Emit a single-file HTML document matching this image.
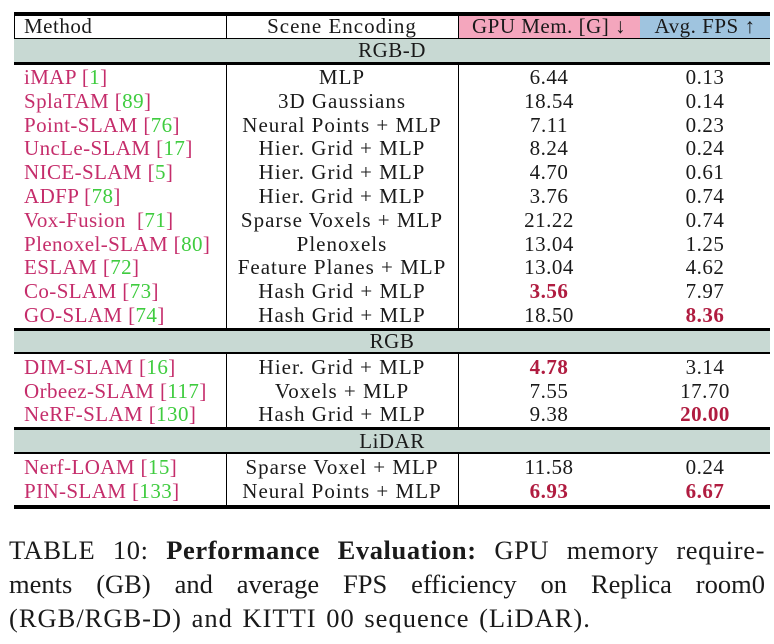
<!DOCTYPE html>
<html><head><meta charset="utf-8"><style>
body{margin:0;width:774px;height:644px;background:#fff;position:relative;overflow:hidden;font-family:"Liberation Serif",serif;color:#1a1a1a}
.r{position:absolute;left:14px;width:756px;height:24px;font-size:21px;line-height:24px}
.r div{position:absolute;top:0;height:100%;white-space:nowrap}
.m{left:10px;letter-spacing:0.4px}.m{color:#c52d6b}.m span{color:#3fcc3f}
.e{left:212px;width:232px;text-align:center;letter-spacing:1px}
.g{left:444px;width:182px;text-align:center;letter-spacing:0.5px}
.f{left:626px;width:130px;text-align:center;letter-spacing:0.5px}
.b{font-weight:bold;color:#b01c40}
.band{position:absolute;left:14px;width:756px;background:#c8d9d3;font-size:21px;text-align:center;letter-spacing:0.5px}
.hl{position:absolute;left:14px;width:756px;background:#000}
.vl{position:absolute;width:1px;background:#000}
.cap{position:absolute;left:9px;width:756px;font-size:26.5px;line-height:34px;text-align:justify;text-align-last:justify;white-space:nowrap}
</style></head><body>
<div class="hl" style="top:12px;height:4px"></div>
<div style="position:absolute;left:458px;top:16px;width:182px;height:22px;background:#f4a6bd"></div>
<div style="position:absolute;left:640px;top:16px;width:130px;height:22px;background:#9fc4df"></div>
<div class="r" style="top:14px"><div style="left:10px;letter-spacing:0.5px">Method</div><div class="e">Scene Encoding</div><div class="g">GPU Mem. [G] ↓</div><div class="f">Avg. FPS ↑</div></div>
<div class="hl" style="top:38px;height:1px"></div>
<div class="band" style="top:39px;height:23px;line-height:23px">RGB-D</div>
<div class="hl" style="top:62px;height:3px"></div>

<div class="r" style="top:65px"><div class="m">iMAP [<span>1</span>]</div><div class="e">MLP</div><div class="g">6.44</div><div class="f">0.13</div></div>
<div class="r" style="top:89px"><div class="m">SplaTAM [<span>89</span>]</div><div class="e">3D Gaussians</div><div class="g">18.54</div><div class="f">0.14</div></div>
<div class="r" style="top:113px"><div class="m">Point-SLAM [<span>76</span>]</div><div class="e">Neural Points + MLP</div><div class="g">7.11</div><div class="f">0.23</div></div>
<div class="r" style="top:136px"><div class="m">UncLe-SLAM [<span>17</span>]</div><div class="e">Hier. Grid + MLP</div><div class="g">8.24</div><div class="f">0.24</div></div>
<div class="r" style="top:160px"><div class="m">NICE-SLAM [<span>5</span>]</div><div class="e">Hier. Grid + MLP</div><div class="g">4.70</div><div class="f">0.61</div></div>
<div class="r" style="top:184px"><div class="m">ADFP [<span>78</span>]</div><div class="e">Hier. Grid + MLP</div><div class="g">3.76</div><div class="f">0.74</div></div>
<div class="r" style="top:208px"><div class="m">Vox-Fusion &nbsp;[<span>71</span>]</div><div class="e">Sparse Voxels + MLP</div><div class="g">21.22</div><div class="f">0.74</div></div>
<div class="r" style="top:232px"><div class="m">Plenoxel-SLAM [<span>80</span>]</div><div class="e">Plenoxels</div><div class="g">13.04</div><div class="f">1.25</div></div>
<div class="r" style="top:255px"><div class="m">ESLAM [<span>72</span>]</div><div class="e">Feature Planes + MLP</div><div class="g">13.04</div><div class="f">4.62</div></div>
<div class="r" style="top:279px"><div class="m">Co-SLAM [<span>73</span>]</div><div class="e">Hash Grid + MLP</div><div class="g b">3.56</div><div class="f">7.97</div></div>
<div class="r" style="top:303px"><div class="m">GO-SLAM [<span>74</span>]</div><div class="e">Hash Grid + MLP</div><div class="g">18.50</div><div class="f b">8.36</div></div>

<div class="hl" style="top:328px;height:3px"></div>
<div class="band" style="top:331px;height:21px;line-height:21px">RGB</div>
<div class="hl" style="top:352px;height:2px"></div>
<div class="r" style="top:355px"><div class="m">DIM-SLAM [<span>16</span>]</div><div class="e">Hier. Grid + MLP</div><div class="g b">4.78</div><div class="f">3.14</div></div>
<div class="r" style="top:379px"><div class="m">Orbeez-SLAM [<span>117</span>]</div><div class="e">Voxels + MLP</div><div class="g">7.55</div><div class="f">17.70</div></div>
<div class="r" style="top:402px"><div class="m">NeRF-SLAM [<span>130</span>]</div><div class="e">Hash Grid + MLP</div><div class="g">9.38</div><div class="f b">20.00</div></div>

<div class="hl" style="top:427px;height:3px"></div>
<div class="band" style="top:430px;height:22px;line-height:22px">LiDAR</div>
<div class="hl" style="top:452px;height:2px"></div>
<div class="r" style="top:455px"><div class="m">Nerf-LOAM [<span>15</span>]</div><div class="e">Sparse Voxel + MLP</div><div class="g">11.58</div><div class="f">0.24</div></div>
<div class="r" style="top:479px"><div class="m">PIN-SLAM [<span>133</span>]</div><div class="e">Neural Points + MLP</div><div class="g b">6.93</div><div class="f b">6.67</div></div>
<div class="hl" style="top:505px;height:4px"></div>

<div class="vl" style="left:14px;top:16px;height:22px"></div>
<div class="vl" style="left:226px;top:16px;height:22px"></div>
<div class="vl" style="left:458px;top:16px;height:22px"></div>
<div class="vl" style="left:226px;top:65px;height:263px"></div>
<div class="vl" style="left:458px;top:65px;height:263px"></div>
<div class="vl" style="left:226px;top:354px;height:73px"></div>
<div class="vl" style="left:458px;top:354px;height:73px"></div>
<div class="vl" style="left:226px;top:454px;height:51px"></div>
<div class="vl" style="left:458px;top:454px;height:51px"></div>

<div class="cap" style="top:533px;letter-spacing:0.6px">TABLE 10: <b>Performance Evaluation:</b> GPU memory require-</div>
<div class="cap" style="top:567px">ments (GB) and average FPS efficiency on Replica room0</div>
<div class="cap" style="top:601px;text-align:left;text-align-last:left;letter-spacing:1px;word-spacing:2px">(RGB/RGB-D) and KITTI 00 sequence (LiDAR).</div>
</body></html>
